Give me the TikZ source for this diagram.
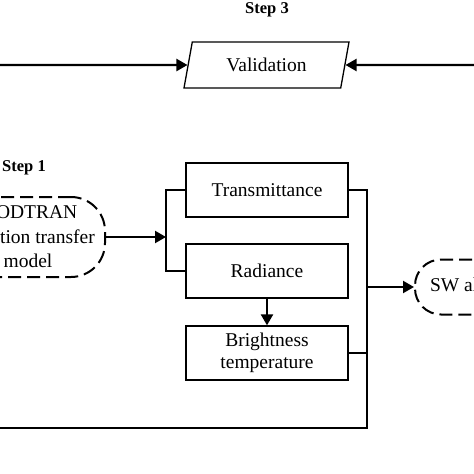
\documentclass[tikz,border=0pt]{standalone}
\usepackage{fontspec}
\setmainfont{Liberation Serif}
\usetikzlibrary{arrows.meta, shapes.geometric}

\tikzset{
  box/.style={draw, line width=1.3pt, minimum width=162pt, minimum height=54pt,
    inner sep=0pt, align=center, font=\fontsize{19.5}{22.5}\selectfont},
  dashbox/.style={draw, line width=2pt, dash pattern=on 13pt off 6pt,
    rounded corners=27pt, inner sep=0pt, align=center,
    font=\fontsize{19.5}{24.5}\selectfont},
  flow/.style={line width=2.2pt, -{Triangle[length=11pt,width=12pt]}},
  link/.style={line width=2.2pt},
  steplabel/.style={font=\bfseries\fontsize{16.5}{20}\selectfont}
}

\begin{document}
\begin{tikzpicture}[x=1pt,y=-1pt]
  \useasboundingbox (0,0) rectangle (474,474);
  \clip (0,0) rectangle (474,474);

  % titoli
  \node[steplabel] (step3) at (267,10) {Step 3};
  \node[steplabel] (step1) at (24,168) {Step 1};

  % validazione
  \node[draw, trapezium, trapezium left angle=68, trapezium right angle=112,
    trapezium stretches body, minimum width=165pt, minimum height=46pt,
    line width=1.3pt, font=\fontsize{19.5}{22.5}\selectfont] (val) at (266.5,65) {Validation};
  \coordinate (vin) at (-10,65);
  \coordinate (vout) at (490,65);
  \draw[flow] (vin) -- (val);
  \draw[flow] (vout) -- (val);

  % blocchi
  \node[dashbox, minimum width=154pt, minimum height=80pt, rounded corners=34pt] (modtran) at (28,237)
    {MODTRAN\\radiation transfer\\model};
  \node[box] (trans) at (267,190) {Transmittance};
  \node[box] (rad) at (267,271) {Radiance};
  \node[box] (bright) at (267,353) {Brightness\\temperature};
  \node[dashbox, minimum width=140pt, minimum height=55pt, rounded corners=26pt] (sw) at (485,287)
    {SW algorithm};

  % collegamenti
  \coordinate (jl) at (166,237);
  \coordinate (jr) at (367,287);
  \coordinate (jb) at (367,428);
  \coordinate (bout) at (-10,428);
  \draw[flow] (modtran) -- (jl);
  \draw[link] (trans.west) -| (jl) |- (rad.west);
  \draw[link] (trans.east) -| (jb) -- (bout);
  \draw[link] (bright.east) -- (bright.east -| jb);
  \draw[flow] (rad) -- (bright);
  \draw[flow] (jr) -- (sw);
\end{tikzpicture}
\end{document}
